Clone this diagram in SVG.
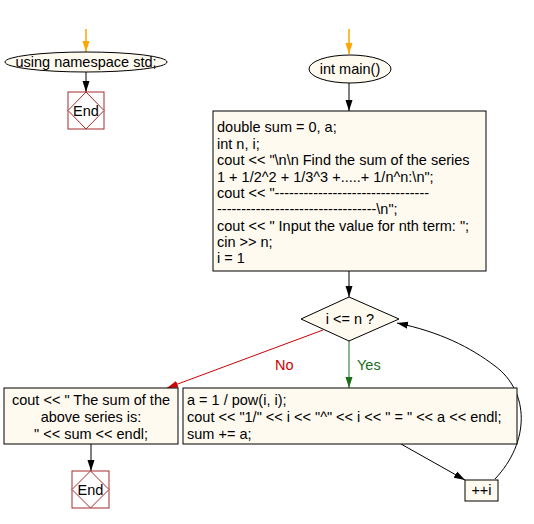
<svg xmlns="http://www.w3.org/2000/svg" width="534" height="524" viewBox="0 0 534 524">
<style>
.node{fill:#fffaf0;stroke:#000;stroke-width:1}
.end{fill:#fff;stroke:#a52a2a;stroke-width:1}
.t{font-family:"Liberation Sans",Arial,sans-serif;font-size:14.5px;fill:#000}
.c{text-anchor:middle}
.e{stroke:#000;stroke-width:1;fill:none}
.o{stroke:#ffa500;stroke-width:1.5;fill:none}
</style>
<defs>
<marker id="ab" markerUnits="userSpaceOnUse" markerWidth="12" markerHeight="10" refX="11" refY="5" orient="auto"><path d="M0,1.5 L11,5 L0,8.5 z" fill="#000"/></marker>
<marker id="ao" markerUnits="userSpaceOnUse" markerWidth="12" markerHeight="10" refX="11" refY="5" orient="auto"><path d="M0,1.5 L11,5 L0,8.5 z" fill="#ffa500"/></marker>
<marker id="ar" markerUnits="userSpaceOnUse" markerWidth="12" markerHeight="10" refX="11" refY="5" orient="auto"><path d="M0,1.5 L11,5 L0,8.5 z" fill="#cc0000"/></marker>
<marker id="ag" markerUnits="userSpaceOnUse" markerWidth="12" markerHeight="10" refX="11" refY="5" orient="auto"><path d="M0,1.5 L11,5 L0,8.5 z" fill="#1a6e1a"/></marker>
</defs>
<g id="connectors">
<line class="o" x1="86" y1="29" x2="86" y2="52" marker-end="url(#ao)"/>
<line class="e" x1="86" y1="72" x2="86" y2="92" marker-end="url(#ab)"/>
<line class="o" x1="349" y1="29" x2="349" y2="54" marker-end="url(#ao)"/>
<line class="e" x1="349" y1="83" x2="349" y2="111" marker-end="url(#ab)"/>
<line class="e" x1="349" y1="271" x2="349" y2="297" marker-end="url(#ab)"/>
<line x1="323" y1="330" x2="167" y2="388" stroke="#cc0000" stroke-width="1" marker-end="url(#ar)"/>
<text class="t" x="275" y="370" style="fill:#cc0000">No</text>
<line x1="349" y1="341" x2="349" y2="388" stroke="#1a6e1a" stroke-width="1" marker-end="url(#ag)"/>
<text class="t" x="357" y="370" style="fill:#1a6e1a">Yes</text>
<line class="e" x1="91" y1="444" x2="91" y2="471" marker-end="url(#ab)"/>
<line class="e" x1="401" y1="444" x2="465" y2="480" marker-end="url(#ab)"/>
<path class="e" d="M495,479 C530,442 530,392 495,366 C470,347 440,332 397,323" marker-end="url(#ab)"/>
</g>
<g id="using">
<ellipse class="node" cx="86" cy="62" rx="81" ry="10"/>
<text class="t c" x="86" y="67">using namespace std;</text>
</g>
<g id="end1">
<rect class="end" x="68" y="92" width="36" height="37"/>
<path class="end" d="M86,92 L104,110.5 L86,129 L68,110.5 z"/>
<text class="t c" x="86" y="116">End</text>
</g>
<g id="main">
<ellipse class="node" cx="350" cy="69" rx="41" ry="14"/>
<text class="t c" x="350" y="74">int main()</text>
</g>
<g id="init">
<rect class="node" x="213" y="111" width="273" height="160"/>
<text class="t" x="217" y="132">double sum = 0, a;</text>
<text class="t" x="217" y="148.5">int n, i;</text>
<text class="t" x="217" y="165">cout &lt;&lt; "\n\n Find the sum of the series</text>
<text class="t" x="217" y="181.5">1 + 1/2^2 + 1/3^3 +.....+ 1/n^n:\n";</text>
<text class="t" x="217" y="198">cout &lt;&lt; "--------------------------------</text>
<text class="t" x="217" y="214">---------------------------------\n";</text>
<text class="t" x="217" y="230.5">cout &lt;&lt; " Input the value for nth term: ";</text>
<text class="t" x="217" y="247">cin &gt;&gt; n;</text>
<text class="t" x="217" y="263">i = 1</text>
</g>
<g id="cond">
<path class="node" d="M349,297 L399,319 L349,341 L301,319 z"/>
<text class="t c" x="350" y="324">i &lt;= n ?</text>
</g>
<g id="print">
<rect class="node" x="4" y="388" width="174" height="56"/>
<text class="t c" x="91" y="405">cout &lt;&lt; " The sum of the</text>
<text class="t c" x="91" y="422">above series is:</text>
<text class="t c" x="91" y="439">" &lt;&lt; sum &lt;&lt; endl;</text>
</g>
<g id="body">
<rect class="node" x="183" y="388" width="334" height="56"/>
<text class="t" x="187" y="405">a = 1 / pow(i, i);</text>
<text class="t" x="187" y="422">cout &lt;&lt; "1/" &lt;&lt; i &lt;&lt; "^" &lt;&lt; i &lt;&lt; " = " &lt;&lt; a &lt;&lt; endl;</text>
<text class="t" x="187" y="439">sum += a;</text>
</g>
<g id="end2">
<rect class="end" x="72" y="471" width="37" height="37"/>
<path class="end" d="M90.5,471 L109,489.5 L90.5,508 L72,489.5 z"/>
<text class="t c" x="90.5" y="495">End</text>
</g>
<g id="inc">
<rect class="node" x="465" y="480" width="33" height="21"/>
<text class="t c" x="481.5" y="495">++i</text>
</g>
</svg>
